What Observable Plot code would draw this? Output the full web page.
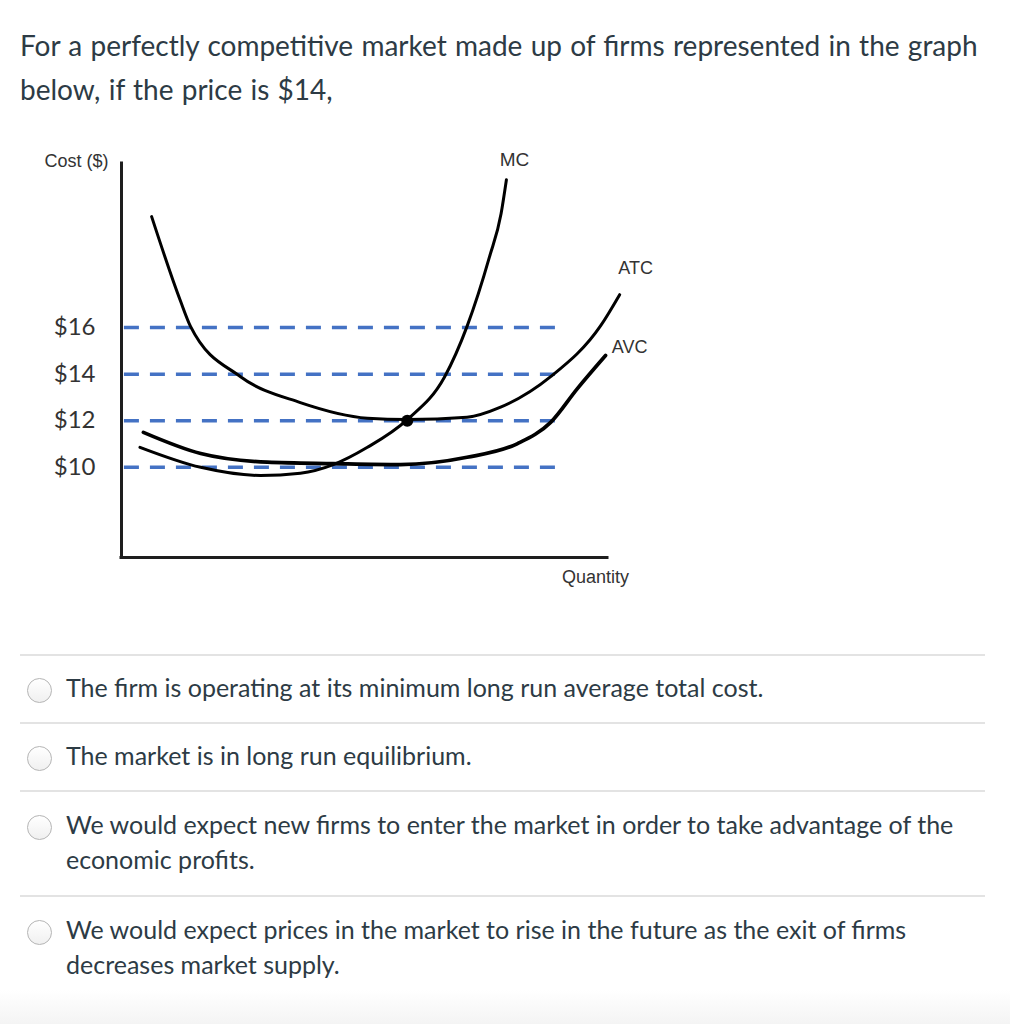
<!DOCTYPE html>
<html><head><meta charset="utf-8">
<script src="https://cdn.jsdelivr.net/npm/d3@7"></script>
<script src="https://cdn.jsdelivr.net/npm/@observablehq/plot@0.6"></script>
<style>
html,body{margin:0;padding:0;background:#fff;}
body{width:1010px;height:1024px;position:relative;overflow:hidden;font-family:Lato,sans-serif;color:#2d3b45;}
.abs{position:absolute;}
.title{left:20px;top:23px;font-size:28px;line-height:44px;width:985px;word-spacing:1.1px;}
.sep{left:20px;width:965px;height:0;border-top:2px solid #e3e3e3;}
.radio{left:27px;width:25px;height:25px;border:1.5px solid #b5b5b5;border-radius:50%;background:linear-gradient(#fff,#f0f0f0);box-sizing:border-box;}
.opt{left:66px;font-size:25px;line-height:35px;width:900px;}
.foot{left:0;top:990px;width:1010px;height:34px;background:linear-gradient(#fff,#f4f4f4);}
#chart{left:0;top:140px;}
</style>
</head><body>
<div class="abs title">For a perfectly competitive market made up of firms represented in the graph below, if the price is $14,</div>
<div class="abs" id="chart"></div>
<div class="abs sep" style="top:654px"></div>
<div class="abs radio" style="top:678px"></div>
<div class="abs opt" style="top:670px">The firm is operating at its minimum long run average total cost.</div>
<div class="abs sep" style="top:722px"></div>
<div class="abs radio" style="top:746px"></div>
<div class="abs opt" style="top:738px">The market is in long run equilibrium.</div>
<div class="abs sep" style="top:790px"></div>
<div class="abs radio" style="top:815px"></div>
<div class="abs opt" style="top:807px">We would expect new firms to enter the market in order to take advantage of the economic profits.</div>
<div class="abs sep" style="top:895px"></div>
<div class="abs radio" style="top:920px"></div>
<div class="abs opt" style="top:912px">We would expect prices in the market to rise in the future as the exit of firms decreases market supply.</div>
<div class="abs foot"></div>
<script>
// Price levels (tick labels and dashed guides)
const prices = [10, 12, 14, 16];
const priceLabels = ["$10", "$12", "$14", "$16"];

// Marginal cost curve
const mcQ    = [3.8, 16.3, 28.6, 36.8, 43.6, 50.6, 58.8, 66.5, 71.1, 75.7, 78.1, 79.2];
const mcCost = [10.86, 10.00, 9.65, 9.75, 10.12, 10.86, 12.05, 13.89, 16.05, 19.02, 20.88, 22.34];

// Average total cost curve
const atcQ    = [6.2, 12.1, 14.2, 24.5, 36.8, 50.6, 58.8, 71.1, 78.0, 88.3, 98.6, 102.5];
const atcCost = [20.76, 17.16, 16.05, 13.89, 12.78, 12.11, 12.05, 12.15, 12.58, 13.89, 16.08, 17.41];

// Average variable cost curve
const avcQ    = [4.5, 16.3, 30.0, 43.6, 57.4, 71.1, 81.4, 88.3, 93.8, 99.6];
const avcCost = [11.50, 10.59, 10.22, 10.16, 10.12, 10.43, 11.01, 11.93, 13.38, 14.80];

// MC = ATC minimum point
const eqQ = [58.8];
const eqCost = [12];

// Axis extents and dashed-guide extent
const qDomain = [0, 100];
const costDomain = [6.13, 23.04];
const guideQ = [0.6, 90];

const mc = mcQ.map((q, i) => ({q, c: mcCost[i]}));
const atc = atcQ.map((q, i) => ({q, c: atcCost[i]}));
const avc = avcQ.map((q, i) => ({q, c: avcCost[i]}));
const eq = eqQ.map((q, i) => ({q, c: eqCost[i]}));
const guides = prices.map(p => ({p}));

const labelFont = "Liberation Sans, Arial, sans-serif";

const plot = Plot.plot({
  width: 680, height: 470,
  marginLeft: 121, marginRight: 73, marginTop: 23, marginBottom: 53,
  x: {domain: qDomain, axis: null},
  y: {domain: costDomain, ticks: prices, tickFormat: d => priceLabels[prices.indexOf(d)], tickSize: 0, tickPadding: 26, label: null},
  style: {fontFamily: "Lato, sans-serif", fontSize: "24px", color: "#333", background: "transparent", overflow: "visible"},
  marks: [
    Plot.ruleY(guides, {y: "p", x1: guideQ[0], x2: guideQ[1], stroke: "#4472c4", strokeWidth: 3.5, strokeDasharray: "15,11"}),
    Plot.line(atc, {x: "q", y: "c", curve: "monotone-x", stroke: "#000", strokeWidth: 3}),
    Plot.line(avc, {x: "q", y: "c", curve: "monotone-x", stroke: "#000", strokeWidth: 3.7}),
    Plot.line(mc, {x: "q", y: "c", curve: "monotone-x", stroke: "#000", strokeWidth: 3}),
    Plot.dot(eq, {x: "q", y: "c", r: 6, fill: "#000"}),
    Plot.ruleX([qDomain[0]], {stroke: "#1e1e1e", strokeWidth: 3, strokeLinecap: "square"}),
    Plot.ruleY([costDomain[0]], {stroke: "#1e1e1e", strokeWidth: 3, strokeLinecap: "square"}),
    Plot.text([mc[mc.length - 1]], {x: "q", y: "c", text: () => "MC", dx: 8, dy: -20, fontSize: 19, fontFamily: labelFont, fill: "#333"}),
    Plot.text([atc[atc.length - 1]], {x: "q", y: "c", text: () => "ATC", dx: 16, dy: -26, fontSize: 18, fontFamily: labelFont, fill: "#333"}),
    Plot.text([avc[avc.length - 1]], {x: "q", y: "c", text: () => "AVC", dx: 24, dy: -8, fontSize: 18, fontFamily: labelFont, fill: "#333"}),
    Plot.text(["Cost ($)"], {frameAnchor: "top-left", text: d => d, textAnchor: "end", dx: -13, dy: -9, fontSize: 18, fontFamily: labelFont, fill: "#333"}),
    Plot.text(["Quantity"], {frameAnchor: "bottom-right", text: d => d, textAnchor: "middle", dx: -12, dy: 25, fontSize: 18, fontFamily: labelFont, fill: "#333"})
  ]
});
document.getElementById("chart").appendChild(plot);
</script>
</body></html>
